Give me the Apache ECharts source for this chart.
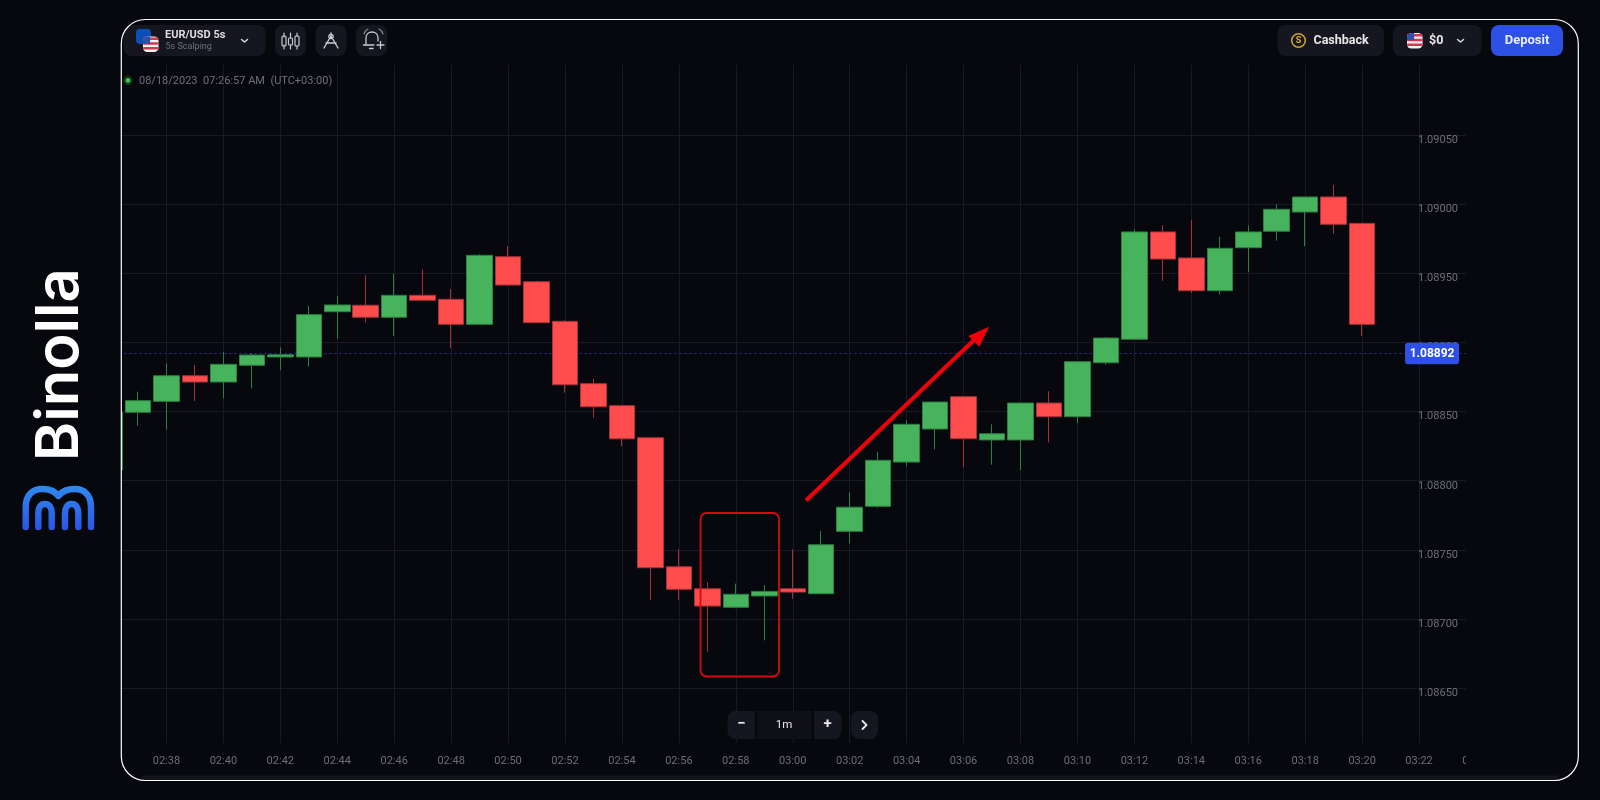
<!DOCTYPE html>
<html><head><meta charset="utf-8">
<style>html,body{margin:0;padding:0;background:#07080e}#c{width:1600px;height:800px}</style>
<script src="https://cdn.jsdelivr.net/npm/echarts@6/dist/echarts.min.js"></script>
</head><body><div id="c"></div>
<script>
const categories = ['02:36','02:37','02:38','02:39','02:40','02:41','02:42','02:43','02:44','02:45','02:46','02:47','02:48','02:49','02:50','02:51','02:52','02:53','02:54','02:55','02:56','02:57','02:58','02:59','03:00','03:01','03:02','03:03','03:04','03:05','03:06','03:07','03:08','03:09','03:10','03:11','03:12','03:13','03:14','03:15','03:16','03:17','03:18','03:19','03:20','03:21','03:22','03:23','03:24'];
const opens = [1.088078,1.088495,1.088574,1.088759,1.088714,1.088835,1.088895,1.088895,1.089222,1.089269,1.089182,1.089341,1.089312,1.089131,1.089620,1.089439,1.089153,1.088702,1.088543,1.088311,1.087378,1.087219,1.087085,1.087167,1.087219,1.087183,1.087634,1.087815,1.088135,1.088374,1.088608,1.088295,1.088295,1.088562,1.088463,1.088853,1.089023,1.089799,1.089611,1.089374,1.089685,1.089804,1.089943,1.090052,1.089861];
const closes = [1.088497,1.088579,1.088759,1.088714,1.088842,1.088909,1.088911,1.089201,1.089271,1.089182,1.089341,1.089305,1.089131,1.089630,1.089415,1.089143,1.088694,1.088535,1.088303,1.087371,1.087215,1.087094,1.087179,1.087200,1.087195,1.087537,1.087809,1.088148,1.088408,1.088569,1.088304,1.088340,1.088562,1.088463,1.088861,1.089032,1.089799,1.089603,1.089374,1.089681,1.089799,1.089963,1.090052,1.089854,1.089131];
const lows = [1.088078,1.088398,1.088370,1.088577,1.088596,1.088668,1.088799,1.088825,1.089027,1.089146,1.089047,1.089305,1.088958,1.089131,1.089415,1.089143,1.088637,1.088456,1.088251,1.087138,1.087138,1.086764,1.087078,1.086846,1.087147,1.087183,1.087548,1.087805,1.088104,1.088227,1.088097,1.088116,1.088078,1.088278,1.088415,1.088839,1.089023,1.089446,1.089358,1.089348,1.089507,1.089736,1.089697,1.089784,1.089047];
const highs = [1.088497,1.088644,1.088849,1.088837,1.088933,1.088921,1.088965,1.089263,1.089338,1.089486,1.089497,1.089529,1.089386,1.089637,1.089697,1.089446,1.089160,1.088736,1.088548,1.088316,1.087504,1.087266,1.087256,1.087246,1.087504,1.087637,1.087916,1.088210,1.088439,1.088569,1.088608,1.088408,1.088562,1.088647,1.088866,1.089039,1.089818,1.089847,1.089888,1.089765,1.089847,1.089999,1.090052,1.090138,1.089861];
const currentPrice = 1.08892;
const priceMin = 1.0860, priceMax = 1.0910, priceStep = 0.0005;

const BG='#07080e', PILL='#15161f', GRID='#181924', TXT='#6d6e76';
const FONT='Roboto, sans-serif';
const candleData = opens.map((o,i)=>[o,closes[i],lows[i],highs[i]]);
const priceLine = categories.map(()=>currentPrice);

function pill(x,y,w,h,fill,r){return {type:'rect',z:20,silent:true,shape:{x,y,width:w,height:h,r:r===undefined?8:r},style:{fill:fill||PILL}};}
function label(text,x,y,font,fill,align,z){return {type:'text',z:z||22,silent:true,x,y,style:{text,font,fill,textAlign:align||'left',textVerticalAlign:'middle'}};}
function usFlag(x,y,s){
  const g=[{type:'rect',z:22,silent:true,shape:{x,y,width:s,height:s,r:s*0.28},style:{fill:'#f2f2f2'}}];
  for(let i=0;i<3;i++){g.push({type:'rect',z:23,silent:true,shape:{x:x,y:y+s*(0.06+i*0.31),width:s,height:s*0.16,r:s*0.06},style:{fill:'#d8364a'}});}
  g.push({type:'rect',z:24,silent:true,shape:{x,y,width:s*0.46,height:s*0.46,r:[s*0.28,0,0,0]},style:{fill:'#2f4fa8'}});
  return g;
}
const ICON='#c9c9cf';
const iconPaths = [
  ['M284 33V37 M284 45V49 M290.5 33V38 M290.5 45V49 M297 33V36 M297 46V49',ICON,1.2],
  ['M331 33V36 M331 36L324 48 M331 36L338 48 M326 43H336',ICON,1.4],
  ['M366 44V38 C366 34 369 32 372 32 C375 32 378 34 378 38 V41 M363.5 45H374 M369.5 48.5H373 M377 45H384 M380.5 41.5V48.5',ICON,1.3],
  ['M364 34 C365 31 366 30 368 29 M379 29 C381 30 382 31 383 34','#8d8d95',1.1],
  ['M241.5 39.5 L244.5 42 L247.5 39.5','#dcdce0',1.5],
  ['M1457.5 39.5 L1460.5 42 L1463.5 39.5','#dcdce0',1.5],
  ['M862.5 721 L866.5 725 L862.5 729','#e8e8ea',1.8],
  ['M25.7 527 V507 C25.7 494 34 489 42 489 C50 489 55 491 58.3 496 C62 491 67 489 75 489 C83 489 91 494 91 507 V527 M38.3 527 V513 C38.3 507 41 504 45 504 C49 504 51.7 507 51.7 513 V527 M65 527 V513 C65 507 68 504 71.5 504 C75.5 504 78.3 507 78.3 513 V527',
    {type:'linear',x:0,y:0,x2:0,y2:1,colorStops:[{offset:0,color:'#2f8aec'},{offset:1,color:'#2a55e8'}]},6.4]
];

const graphics = [
  {type:'rect',z:10,silent:true,shape:{x:0,y:0,width:121.5,height:800},style:{fill:BG}},
  {type:'rect',z:10,silent:true,shape:{x:1466,y:0,width:134,height:800},style:{fill:BG}},
  {type:'rect',z:11,silent:true,shape:{x:142,y:775.5,width:1416,height:5},style:{fill:'#13141c'}},
  {type:'rect',z:15,silent:true,shape:{x:700.5,y:513,width:78.5,height:163.5,r:6},style:{fill:'none',stroke:'#d80a0f',lineWidth:1.8}},
  {type:'line',z:15,silent:true,shape:{x1:806,y1:500.5,x2:975,y2:339},style:{stroke:'#f00008',lineWidth:4}},
  {type:'polygon',z:15,silent:true,shape:{points:[[989,326.7],[968.3,336],[979.3,346.7]]},style:{fill:'#f00008'}},
  pill(123.5,25,142,31),
  {type:'rect',z:21,silent:true,shape:{x:136,y:29,width:15,height:15,r:4},style:{fill:'#0b50b8'}},
  ...usFlag(143,36.5,15.5),
  label('EUR/USD 5s',165,35,'bold 11px '+FONT,'#dedee2'),
  label('5s Scalping',165.5,47,'9px '+FONT,'#6f7078'),
  pill(275,25,31,31), pill(315.5,25,31,31), pill(356,25,31,31),
  {type:'rect',z:22,silent:true,shape:{x:282,y:36,width:4,height:10,r:1},style:{fill:'none',stroke:ICON,lineWidth:1.2}},
  {type:'rect',z:22,silent:true,shape:{x:288.5,y:38,width:4,height:7,r:1},style:{fill:'none',stroke:ICON,lineWidth:1.2}},
  {type:'rect',z:22,silent:true,shape:{x:295,y:36,width:4,height:10,r:1},style:{fill:'none',stroke:ICON,lineWidth:1.2}},
  {type:'circle',z:22,silent:true,shape:{cx:331,cy:36.5,r:2.2},style:{fill:'none',stroke:ICON,lineWidth:1.2}},
  {type:'circle',z:21,silent:true,shape:{cx:128,cy:80.5,r:5},style:{fill:'#10301a'}},
  {type:'circle',z:22,silent:true,shape:{cx:128,cy:80.5,r:2.4},style:{fill:'#3fc24f'}},
  label('08/18/2023  07:26:57 AM  (UTC+03:00)',139,81,'11px '+FONT,'#6f7078'),
  pill(1277.5,25,106.5,31),
  {type:'circle',z:22,silent:true,shape:{cx:1298.5,cy:40.5,r:6.8},style:{fill:'none',stroke:'#c9a227',lineWidth:1.6}},
  label('S',1298.5,41,'bold 9px '+FONT,'#d9b030','center'),
  label('Cashback',1313.5,40.5,'bold 12.5px '+FONT,'#e8e8ea'),
  pill(1393,25,88.5,31),
  ...usFlag(1407,33,15.5),
  label('$0',1429,40.5,'bold 12.5px '+FONT,'#e8e8ea'),
  pill(1491,25,72,31,'#2d50e6'),
  label('Deposit',1527,40.5,'bold 13px '+FONT,'#e8ecff','center'),
  pill(727.5,711,27.5,28,PILL,[8,0,0,8]),
  pill(757,711,54.5,28,'#0f1017',0),
  pill(814,711,27.5,28,PILL,[0,8,8,0]),
  pill(851,711,27,28,PILL,8),
  label('−',741.5,724.5,'bold 15px '+FONT,'#e8e8ea','center'),
  label('1m',784,725.5,'11.5px '+FONT,'#e8e8ea','center'),
  label('+',827.5,724.5,'bold 15px '+FONT,'#e8e8ea','center'),
  {type:'text',z:30,silent:true,x:90.2,y:461,rotation:Math.PI/2,style:{text:'Binolla',font:'600 59.5px Inter, sans-serif',fill:'#ffffff',textAlign:'left',textVerticalAlign:'bottom'}},
  {type:'rect',z:40,silent:true,shape:{x:121.3,y:19.5,width:1457,height:761,r:24},style:{fill:'none',stroke:'#ffffff',lineWidth:1.2}}
];

const chart = echarts.init(document.getElementById('c'),null,{renderer:'canvas'});
const gridLeft=109.5, gridRight=1600-1476;
chart.setOption({
  animation:false,
  backgroundColor:BG,
  grid:[
    {left:gridLeft,right:gridRight,top:65.85,height:691.5,containLabel:false},
    {left:gridLeft,right:gridRight,top:65,height:678,containLabel:false}
  ],
  xAxis:[
    {type:'category',gridIndex:0,data:categories,boundaryGap:false,show:false},
    {type:'category',gridIndex:1,data:categories,boundaryGap:false,
      axisLine:{show:false},axisTick:{show:false},
      splitLine:{show:true,interval:(i)=>i%2===0&&i>0,lineStyle:{color:GRID,width:1}},
      axisLabel:{interval:(i)=>i%2===0&&i>0,color:TXT,fontFamily:'Roboto',fontSize:11,margin:13,showMaxLabel:true,hideOverlap:false}}
  ],
  yAxis:[
    {type:'value',gridIndex:0,min:priceMin,max:priceMax,interval:priceStep,position:'right',
      axisLine:{show:false},axisTick:{show:false},
      splitLine:{show:true,showMinLine:false,showMaxLine:false,lineStyle:{color:GRID,width:1}},
      axisLabel:{inside:true,margin:18,showMinLabel:false,showMaxLabel:false,
        formatter:v=>'{p|'+v.toFixed(5)+'}',
        rich:{p:{color:TXT,fontFamily:'Roboto',fontSize:11,padding:[10,0,0,0]}}}},
    {type:'value',gridIndex:1,min:0,max:1,show:false}
  ],
  graphic:{elements:graphics},
  series:[{
    type:'candlestick',xAxisIndex:0,yAxisIndex:0,clip:true,barWidth:26,z:5,
    data:candleData,
    itemStyle:{color:'#47b35c',color0:'#ff4d4e',borderColor:'#2d7f42',borderColor0:'#a5323a',borderWidth:1}
  },{
    type:'line',xAxisIndex:0,yAxisIndex:0,z:4,data:priceLine,showSymbol:false,silent:true,
    lineStyle:{type:[2,3],color:'#2a2e9a',width:1.2},
    markPoint:{silent:true,z:9,symbol:'path://M3 0H51A3 3 0 0 1 54 3V18.5A3 3 0 0 1 51 21.5H3A3 3 0 0 1 0 18.5V3A3 3 0 0 1 3 0Z',symbolSize:[54,21.5],symbolOffset:[13,0],itemStyle:{color:'#2d50e6'},
      label:{show:true,position:'inside',formatter:()=>currentPrice.toFixed(5),color:'#ffffff',fontFamily:'Roboto',fontWeight:'bold',fontSize:12},
      data:[{coord:['03:22',currentPrice]}]}
  },{
    type:'custom',coordinateSystem:'none',silent:true,z:30,data:[[0]],clip:false,
    renderItem:()=>({type:'group',children:iconPaths.map(p=>({type:'path',shape:{pathData:p[0]},style:{fill:'none',stroke:p[1],lineWidth:p[2],lineCap:'round',lineJoin:'round'}}))})
  }]
});
</script></body></html>
